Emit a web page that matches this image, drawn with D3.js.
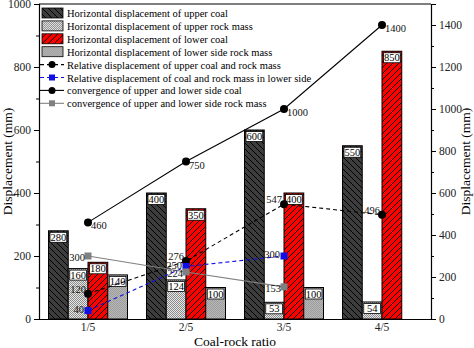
<!DOCTYPE html>
<html>
<head>
<meta charset="utf-8">
<script src="https://cdn.jsdelivr.net/npm/d3@7"></script>
<style>
body { margin: 0; background: #fff; }
text { font-family: "Liberation Serif", "Times New Roman", serif; }
</style>
</head>
<body>
<div id="chart"></div>
<script>
// values
const ratios = ["1/5", "2/5", "3/5", "4/5"];
const upperCoal = [280, 400, 600, 550];
const upperRock = [160, 124, 53, 54];
const lowerCoal = [180, 350, 400, 850];
const lowerRock = [140, 100, 100, null];
const relUpper = [120, 276, 547, 496];
const relLower = [40, 250, 300, null];
const convCoal = [460, 750, 1000, 1400];
const convRock = [300, 224, 153, null];
const leftTicks = [0, 200, 400, 600, 800, 1000];
const rightTicks = [0, 200, 400, 600, 800, 1000, 1200, 1400];

const width = 474, height = 348;
const margin = {top: 4, right: 43, bottom: 29, left: 39};

const svg = d3.select("#chart").append("svg")
    .attr("width", width)
    .attr("height", height);

const defs = svg.append("defs");
function hatch(id, bg, d) {
    const p = defs.append("pattern").attr("id", id)
        .attr("patternUnits", "userSpaceOnUse").attr("width", 6).attr("height", 6);
    p.append("rect").attr("width", 6).attr("height", 6).attr("fill", bg);
    p.append("path").attr("d", d).attr("stroke", "#000").attr("stroke-width", 1);
}
hatch("back", "#3d3d3d", "M0,0L6,6M-1,5L1,7M5,-1L7,1");
hatch("fwd", "#ff0000", "M0,6L6,0M-1,1L1,-1M5,7L7,5");
function dots(id, a, b) {
    const p = defs.append("pattern").attr("id", id)
        .attr("patternUnits", "userSpaceOnUse").attr("width", 2).attr("height", 2);
    p.append("rect").attr("width", 2).attr("height", 2).attr("fill", a);
    p.append("rect").attr("width", 1).attr("height", 1).attr("fill", b);
    p.append("rect").attr("x", 1).attr("y", 1).attr("width", 1).attr("height", 1).attr("fill", b);
}
dots("check", "#e6e6e6", "#8c8c8c");
dots("grey", "#b8b8b8", "#9c9c9c");

const x = d3.scaleBand().domain(ratios).range([margin.left, width - margin.right]).padding(0);
const yL = d3.scaleLinear().domain([0, 1000]).range([height - margin.bottom, margin.top]);
const yR = d3.scaleLinear().domain([0, 1500]).range([height - margin.bottom, margin.top]);

const barSeries = [
    {name: "Horizontal displacement of upper coal", values: upperCoal, fill: "url(#back)"},
    {name: "Horizontal displacement of upper  rock mass", values: upperRock, fill: "url(#check)"},
    {name: "Horizontal displacement of lower coal", values: lowerCoal, fill: "url(#fwd)"},
    {name: "Horizontal displacement of lower side  rock mass", values: lowerRock, fill: "url(#grey)"}
];
const xi = d3.scaleBand().domain(d3.range(barSeries.length)).range([-39.5, 39.5]);

// bars
barSeries.forEach((s, si) => {
    const g = svg.append("g");
    const data = ratios.map((r, i) => ({r: r, v: s.values[i]})).filter(d => d.v != null);
    g.selectAll("rect.bar").data(data).join("rect")
        .attr("class", "bar")
        .attr("x", d => x(d.r) + x.bandwidth() / 2 + xi(si))
        .attr("y", d => yL(d.v))
        .attr("width", xi.bandwidth())
        .attr("height", d => yL(0) - yL(d.v))
        .attr("fill", s.fill)
        .attr("stroke", "#000")
        .attr("stroke-width", 1);
    g.selectAll("rect.lab").data(data).join("rect")
        .attr("class", "lab")
        .attr("x", d => x(d.r) + x.bandwidth() / 2 + xi(si) + 1.5)
        .attr("y", d => yL(d.v) + 1.5)
        .attr("width", xi.bandwidth() - 3)
        .attr("height", 10)
        .attr("fill", "#fff")
        .attr("stroke", "#000")
        .attr("stroke-width", 0.8);
    g.selectAll("text").data(data).join("text")
        .attr("x", d => x(d.r) + x.bandwidth() / 2 + xi(si) + xi.bandwidth() / 2)
        .attr("y", d => yL(d.v) + 10)
        .attr("text-anchor", "middle")
        .attr("font-size", 10.5)
        .text(d => d.v);
});

// lines on the right axis
const lineSeries = [
    {name: "Relative displacement of upper coal and rock mass", values: relUpper, color: "#000", dash: "4,3", marker: "circle", lab: {dx: -2, dy: -1, anchor: "end"}},
    {name: "Relative displacement of coal and rock mass in lower side", values: relLower, color: "#1010e6", dash: "4,3", marker: "square", lab: {dx: -4, dy: 2, anchor: "end"}},
    {name: "convergence of upper and lower side coal", values: convCoal, color: "#000", dash: null, marker: "circle", lab: {dx: 3, dy: 7, anchor: "start"}},
    {name: "convergence of upper and lower side rock mass", values: convRock, color: "#808080", dash: null, marker: "square", lab: {dx: -3, dy: 5, anchor: "end"}}
];

function drawMarker(sel, type, color, size) {
    if (type === "circle") {
        sel.append("circle").attr("r", size / 2).attr("fill", color);
    } else {
        sel.append("rect").attr("x", -size / 2 + 0.5).attr("y", -size / 2 + 0.5)
            .attr("width", size - 1).attr("height", size - 1).attr("fill", color);
    }
}

lineSeries.forEach(s => {
    const data = ratios.map((r, i) => ({r: r, v: s.values[i]})).filter(d => d.v != null);
    const line = d3.line().x(d => x(d.r) + x.bandwidth() / 2).y(d => yR(d.v));
    svg.append("path").datum(data)
        .attr("d", line)
        .attr("fill", "none")
        .attr("stroke", s.color)
        .attr("stroke-width", 1.1)
        .attr("stroke-dasharray", s.dash);
    const pts = svg.append("g").selectAll("g").data(data).join("g")
        .attr("transform", d => `translate(${x(d.r) + x.bandwidth() / 2},${yR(d.v)})`);
    pts.each(function() { drawMarker(d3.select(this), s.marker, s.color, 8); });
    svg.append("g").selectAll("text").data(data).join("text")
        .attr("x", d => x(d.r) + x.bandwidth() / 2 + s.lab.dx)
        .attr("y", d => yR(d.v) + s.lab.dy)
        .attr("text-anchor", s.lab.anchor)
        .attr("font-size", 10.5)
        .attr("fill", "#111")
        .text(d => d.v);
});

// axes
const bottom = height - margin.bottom;
const fmt = d3.format("d");
svg.append("g").attr("transform", `translate(${margin.left},0)`)
    .call(d3.axisLeft(yL).tickValues(leftTicks).tickSize(5).tickPadding(3).tickFormat(fmt));
svg.append("g").attr("transform", `translate(${margin.left},0)`)
    .call(d3.axisLeft(yL).tickValues(d3.range(100, 1000, 200)).tickSize(3).tickFormat(""))
    .select(".domain").remove();
svg.append("g").attr("transform", `translate(${width - margin.right},0)`)
    .call(d3.axisRight(yR).tickValues(rightTicks).tickSize(5).tickPadding(3).tickFormat(fmt));
svg.append("g").attr("transform", `translate(${width - margin.right},0)`)
    .call(d3.axisRight(yR).tickValues(d3.range(100, 1500, 200)).tickSize(3).tickFormat(""))
    .select(".domain").remove();
svg.append("g").attr("transform", `translate(0,${bottom})`)
    .call(d3.axisBottom(x).tickSize(0).tickPadding(4));
svg.selectAll(".tick text").attr("font-size", 11.5).attr("font-family", "Liberation Serif").attr("fill", "#222");
svg.selectAll(".domain").attr("stroke-width", 1.2);
svg.append("line")
    .attr("x1", margin.left).attr("x2", width - margin.right)
    .attr("y1", margin.top).attr("y2", margin.top)
    .attr("stroke", "#000").attr("stroke-width", 1.2);

svg.append("text").attr("x", (margin.left + width - margin.right) / 2).attr("y", 346)
    .attr("text-anchor", "middle").attr("font-size", 13.5).text("Coal-rock ratio");
svg.append("text").attr("transform", `translate(12,${(margin.top + bottom) / 2}) rotate(-90)`)
    .attr("text-anchor", "middle").attr("font-size", 13.5).text("Displacement (mm)");
svg.append("text").attr("transform", `translate(470,${(margin.top + bottom) / 2}) rotate(-90)`)
    .attr("text-anchor", "middle").attr("font-size", 13.5).text("Displacement (mm)");

// legend
const legend = svg.append("g").attr("transform", "translate(41,13)");
const rowH = 12.9;
barSeries.forEach((s, i) => {
    const g = legend.append("g").attr("transform", `translate(0,${i * rowH})`);
    g.append("rect").attr("x", 1).attr("y", -5).attr("width", 21).attr("height", 10)
        .attr("fill", s.fill).attr("stroke", "#000").attr("stroke-width", 0.8);
    g.append("text").attr("x", 26).attr("y", 4).attr("font-size", 10.5).text(s.name);
});
lineSeries.forEach((s, i) => {
    const g = legend.append("g").attr("transform", `translate(0,${(i + 4) * rowH})`);
    g.append("line").attr("x1", -1).attr("x2", 23).attr("y1", 0).attr("y2", 0)
        .attr("stroke", s.color).attr("stroke-width", 1.1).attr("stroke-dasharray", s.dash);
    drawMarker(g.append("g").attr("transform", "translate(11,0)"), s.marker, s.color, 7);
    g.append("text").attr("x", 26).attr("y", 4).attr("font-size", 10.5).text(s.name);
});
</script>
</body>
</html>
